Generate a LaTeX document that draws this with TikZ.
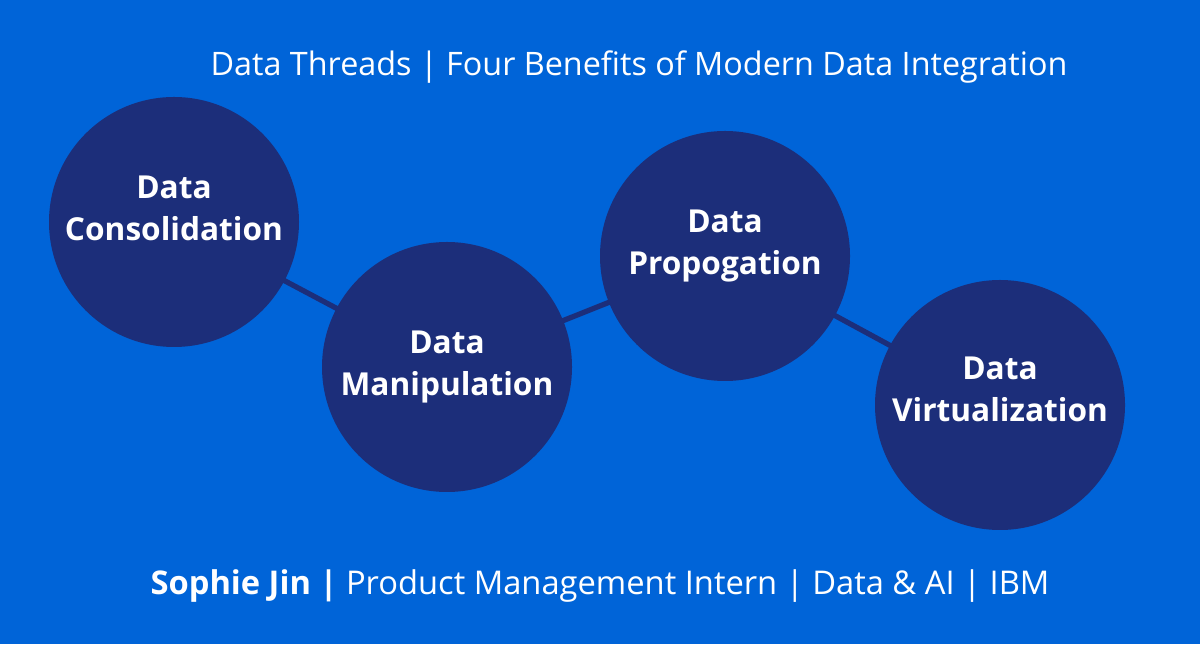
\documentclass[tikz,border=0pt]{standalone}
\usepackage{fontspec}
\setmainfont{Open Sans}
\usetikzlibrary{positioning}
\definecolor{bgblue}{HTML}{0064D8}
\definecolor{navy}{HTML}{1C2E7A}
\tikzset{
  benefit/.style={circle, fill=navy, minimum size=5cm, inner sep=0pt},
  caption/.style={text=white, font=\bfseries\fontsize{18}{24}\selectfont, align=center},
  link/.style={draw=navy, line width=3pt}
}
\begin{document}
\begin{tikzpicture}
    \fill[bgblue] (0,0) rectangle (24,12.88);
    % links
    \draw[link] (3.48,8.44) -- (8.94,5.54) -- (14.5,7.76) -- (20.0,4.78);
    % circles
    \node[benefit] (consol) at (3.48,8.44) {};
    \node[benefit] (manip) at (8.94,5.54) {};
    \node[benefit] (propog) at (14.5,7.76) {};
    \node[benefit] (virt) at (20.0,4.78) {};
    \node[caption, yshift=0.28cm] (consoltext) at (consol) {Data\\Consolidation};
    \node[caption] (maniptext) at (manip) {Data\\Manipulation};
    \node[caption, yshift=0.2cm] (propogtext) at (propog) {Data\\Propogation};
    \node[caption, yshift=0.32cm] (virttext) at (virt) {Data\\Virtualization};
    % texts
    \node[text=white, font=\fontsize{18.4}{20}\selectfont] (title) at (12.78,11.54)
        {Data Threads \textbar\ Four Benefits of Modern Data Integration};
    \node[text=white, font=\fontsize{18.6}{20}\selectfont] (credit) at (12,1.16)
        {\textbf{Sophie Jin \textbar} Product Management Intern \textbar\ Data \& AI \textbar\ IBM};
\end{tikzpicture}
\end{document}
